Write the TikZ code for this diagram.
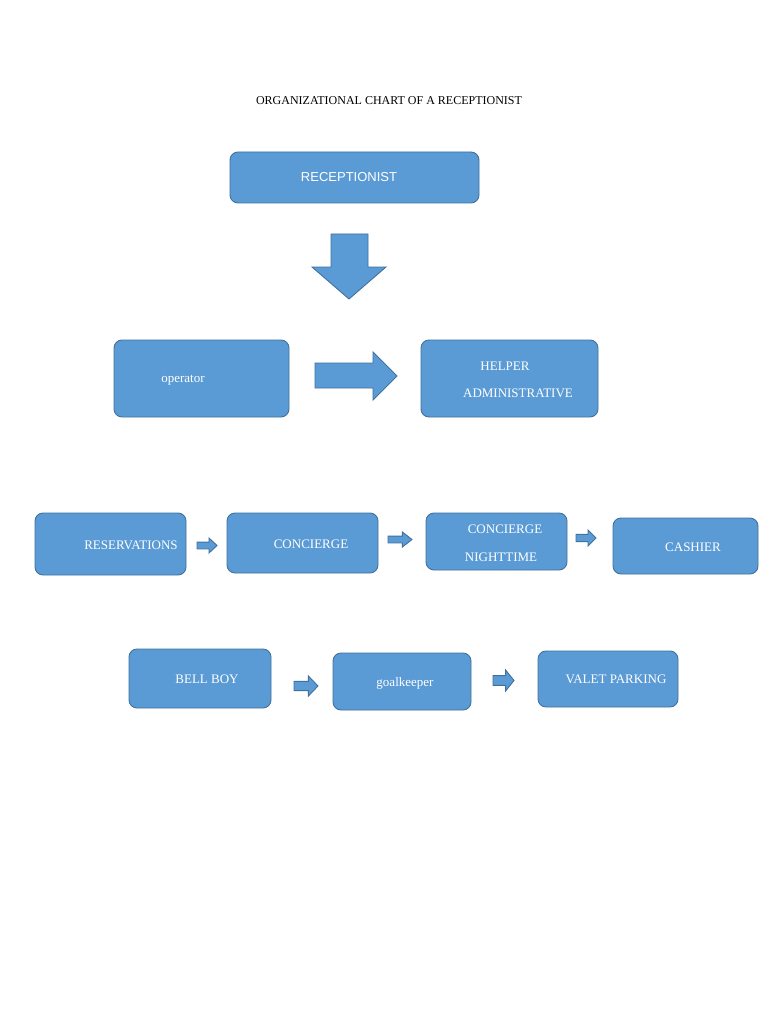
\documentclass[tikz,border=0pt]{standalone}
\usepackage{fontspec}
\setmainfont{Liberation Serif}
\newfontfamily\sansf{Liberation Sans}
\begin{document}
\begin{tikzpicture}[x=1pt,y=-1pt,
  box/.style={draw=boxline,fill=boxfill,rounded corners=8pt,line width=0.9pt},
  lbl/.style={text=white,font=\fontsize{13}{15}\selectfont,inner sep=0pt},
  blk/.style={draw=boxline,fill=boxfill,line width=0.9pt,line join=miter}]
\definecolor{boxfill}{HTML}{5B9BD5}
\definecolor{boxline}{HTML}{41719C}
\useasboundingbox (0,0) rectangle (768,1024);
\fill[white] (0,0) rectangle (768,1024);
\node[font=\fontsize{12}{14}\selectfont,inner sep=0pt] (title) at (389,101) {ORGANIZATIONAL CHART OF A RECEPTIONIST};
% boxes
\draw[box] (230,152) rectangle (479,203); \node[lbl,font=\sansf\fontsize{13}{15}\selectfont] (rec) at (349,177) {RECEPTIONIST};
\draw[box] (114,340) rectangle (289,417); \node[lbl] (op) at (183,380) {operator};
\draw[box] (421,340) rectangle (598,417); \node[lbl] (h1) at (505,366) {HELPER}; \node[lbl] (h2) at (518,393) {ADMINISTRATIVE};
\draw[box] (35,513) rectangle (186,575); \node[lbl] (res) at (131,545) {RESERVATIONS};
\draw[box] (227,513) rectangle (378,573); \node[lbl] (con) at (311,544) {CONCIERGE};
\draw[box] (426,513) rectangle (567,570); \node[lbl] (cn1) at (505,529) {CONCIERGE}; \node[lbl] (cn2) at (501,557) {NIGHTTIME};
\draw[box] (613,518) rectangle (758,574); \node[lbl] (cas) at (693,547) {CASHIER};
\draw[box] (129,649) rectangle (271,708); \node[lbl] (bell) at (207,679) {BELL BOY};
\draw[box] (333,653) rectangle (471,710); \node[lbl] (goal) at (405,683) {goalkeeper};
\draw[box] (538,651) rectangle (678,707); \node[lbl] (val) at (616,679) {VALET PARKING};
% block arrows
\draw[blk] (331,234) -- (368,234) -- (368,267) -- (386,267) -- (349,299) -- (312,267) -- (331,267) -- cycle;
\draw[blk] (315,363) -- (373,363) -- (373,352) -- (397,376) -- (373,400) -- (373,388) -- (315,388) -- cycle;
\newcommand\smallarr[4]{% x1 y1 x2 y2
  \draw[blk] (#1,{#2+0.27*(#4-#2)}) -- ({#1+0.6*(#3-#1)},{#2+0.27*(#4-#2)}) -- ({#1+0.6*(#3-#1)},#2) -- (#3,{(#2+#4)/2}) -- ({#1+0.6*(#3-#1)},#4) -- ({#1+0.6*(#3-#1)},{#4-0.27*(#4-#2)}) -- (#1,{#4-0.27*(#4-#2)}) -- cycle;}
\smallarr{197}{538}{217}{553}
\smallarr{388}{532}{412}{547}
\smallarr{576}{530}{596}{546}
\smallarr{294}{676}{318}{696}
\smallarr{493}{670}{514}{691}
\end{tikzpicture}
\end{document}
